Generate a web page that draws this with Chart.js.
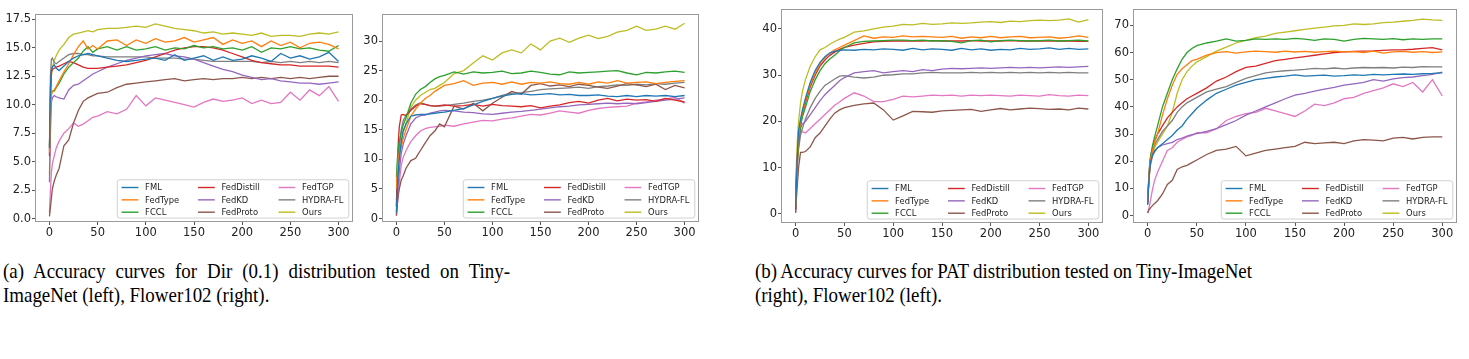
<!DOCTYPE html>
<html><head><meta charset="utf-8">
<script src="https://cdn.jsdelivr.net/npm/chart.js@4.4.1/dist/chart.umd.min.js"></script>
<style>
html,body{margin:0;padding:0;background:#fff;}
body{width:1469px;height:359px;overflow:hidden;position:relative;}
.cv{position:absolute;top:0;}
.cap{position:absolute;font-family:"Liberation Serif","Times New Roman",serif;font-size:21.5px;line-height:24px;color:#000;white-space:nowrap;transform-origin:0 0;transform:scaleX(0.88);display:inline-block;}
</style></head><body>
<canvas id="c1" class="cv"></canvas>
<canvas id="c2" class="cv"></canvas>
<canvas id="c3" class="cv"></canvas>
<canvas id="c4" class="cv"></canvas>
<div class="cap" style="left:3px;top:259px" data-w="507">(a) Accuracy curves for Dir (0.1) distribution tested on Tiny-</div>
<div class="cap" style="left:3px;top:283px">ImageNet (left), Flower102 (right).</div>
<div class="cap" style="left:755px;top:259px" data-w="497">(b) Accuracy curves for PAT distribution tested on Tiny-ImageNet</div>
<div class="cap" style="left:755px;top:283px">(right), Flower102 (left).</div>
<script>
// ---------------- data ----------------
const epochs = [0,1,2,3,5,7,10,15,20,25,30,35,40,45,50,60,70,80,90,100,110,120,130,140,150,160,170,180,190,200,210,220,230,240,250,260,270,280,290,300];
const methods = ["FML","FedType","FCCL","FedDistill","FedKD","FedProto","FedTGP","HYDRA-FL","Ours"];
const xTickValues = [0,50,100,150,200,250,300];
const yTicksDirTiny = [0,2.5,5,7.5,10,12.5,15,17.5];
const yTicksDirFlower = [0,5,10,15,20,25,30];
const yTicksPatFlower = [0,10,20,30,40];
const yTicksPatTiny = [0,10,20,30,40,50,60,70];

// (a) left: Dir(0.1), Tiny-ImageNet
const dirTinyFML = [6.2,11.5,13.0,13.3,13.5,13.2,13.0, 13.4,13.8,14.1,14.3,14.4,14.5,14.4,14.3, 14.1,13.9,13.8,13.9,14.0,14.1,13.9,14.4,13.9,14.1, 14.3,13.9,14.2,13.9,14.0,14.3,14.1,13.8,14.5,14.1, 14.3,14.0,14.2,14.6,13.8];
const dirTinyFedType = [5.8,9.0,10.8,11.2,11.3,11.6,12.1, 12.9,13.6,14.4,15.1,15.6,14.9,15.2,14.9, 15.6,15.7,15.2,15.7,15.4,15.8,15.5,15.6,15.9,15.5, 15.7,15.9,15.3,15.7,15.4,15.6,15.1,15.6,15.2,15.5, 15.0,15.4,15.5,15.3,14.9];
const dirTinyFCCL = [6.4,9.5,11.0,11.2,11.2,11.5,11.9, 12.7,13.3,13.7,14.1,14.7,15.1,14.6,14.9, 15.1,14.8,15.1,14.8,14.9,15.1,14.8,15.0,14.9,15.2, 15.0,15.1,14.9,15.0,14.8,15.1,14.6,15.0,14.9,15.1, 14.9,15.0,14.8,14.7,15.2];
const dirTinyFedDistill = [5.5,10.5,12.8,13.1,13.2,13.3,13.4, 13.6,13.8,13.7,13.5,13.3,13.2,13.2,13.2, 13.3,13.4,13.5,13.7,13.9,14.2,14.5,14.8,15.0,15.1, 15.1,15.0,14.8,14.5,14.2,13.9,13.7,13.6,13.5,13.5, 13.4,13.4,13.4,13.4,13.3];
const dirTinyFedKD = [3.2,7.5,10.2,10.6,10.8,10.7,10.6, 10.5,11.3,11.7,11.8,12.1,12.4,12.7,12.9, 13.3,13.6,13.9,14.1,14.3,14.4,14.5,14.3,14.2,14.0, 13.7,13.4,13.1,12.9,12.6,12.4,12.2,12.3,12.1,12.0, 11.9,11.9,11.8,11.9,12.0];
const dirTinyFedProto = [0.2,1.0,1.8,2.6,3.3,3.8,4.4, 6.4,6.9,8.4,9.5,10.3,10.6,10.8,11.0, 11.1,11.5,11.8,11.9,12.0,12.1,12.2,12.3,12.1,12.2, 12.3,12.2,12.3,12.3,12.4,12.3,12.4,12.3,12.4,12.3, 12.4,12.3,12.4,12.5,12.5];
const dirTinyFedTGP = [0.5,2.5,4.0,4.8,5.5,6.2,6.8, 7.5,7.9,8.4,8.1,8.3,8.6,8.9,9.0, 9.4,9.2,9.6,10.8,9.9,10.6,10.4,10.2,10.0,9.8, 10.2,10.5,10.3,10.4,10.6,10.1,10.4,10.1,10.2,11.1, 10.4,11.3,10.8,11.6,10.3];
const dirTinyHYDRA = [6.0,12.5,14.0,14.1,13.7,13.6,13.8, 14.1,14.4,14.5,14.5,14.4,14.4,14.3,14.3, 14.2,14.2,14.2,14.2,14.2,14.1,14.1,14.1,14.0,14.0, 13.9,13.8,13.8,13.8,13.8,13.8,13.7,13.8,13.7,13.8, 13.7,13.8,13.7,13.8,13.7];
const dirTinyOurs = [3.8,9.0,12.5,13.3,13.9,14.3,14.8, 15.3,15.9,16.2,16.3,16.4,16.5,16.4,16.6, 16.7,16.7,16.8,16.9,16.8,17.1,16.9,16.7,16.6,16.5, 16.3,16.4,16.2,16.3,16.2,16.1,16.3,16.0,16.1,16.1, 16.0,16.2,16.3,16.2,16.4];

// (a) right: Dir(0.1), Flower102
const dirFlowerFML = [1.0,5.0,8.0,10.0,13.0,14.8,16.0, 17.3,17.5,17.6,17.6,17.7,17.8,17.9,18.0, 18.3,18.6,19.2,19.8,20.3,20.7,21.0,21.1,20.9,21.0, 21.1,20.9,21.0,20.8,20.8,20.9,20.7,20.6,20.8,20.6, 20.8,20.7,20.8,20.6,20.8];
const dirFlowerFedType = [5.0,8.0,10.0,11.0,12.0,13.5,15.0, 17.3,18.5,19.5,20.3,20.8,21.5,22.0,22.5, 22.8,23.3,22.5,22.9,23.0,22.7,23.1,22.7,23.0,22.9, 23.1,22.8,22.7,23.0,22.7,23.1,22.9,23.3,22.9,23.0, 23.1,22.8,23.0,23.2,23.3];
const dirFlowerFCCL = [7.0,10.0,12.0,13.0,14.5,15.8,17.0, 19.5,21.0,21.8,22.3,23.0,23.6,24.0,24.2, 24.8,24.4,24.8,24.6,24.7,24.9,24.5,24.6,24.9,24.7, 24.4,24.3,24.8,24.6,24.7,24.8,24.9,25.0,24.6,24.3, 24.7,24.6,24.8,24.9,24.7];
const dirFlowerFedDistill = [2.0,8.0,13.0,15.5,17.5,17.6,17.4, 18.3,19.0,19.4,19.3,19.1,19.0,19.1,19.2, 19.0,19.1,19.3,19.0,19.3,19.1,19.0,18.9,19.1,18.7, 19.0,19.2,19.6,19.8,19.5,20.0,20.3,19.9,20.2,20.0, 20.1,19.8,20.3,20.0,19.7];
const dirFlowerFedKD = [1.0,4.0,6.0,8.0,11.0,12.5,14.0, 16.0,17.0,17.4,17.5,17.8,18.0,18.2,18.3, 18.2,18.0,17.9,17.7,17.6,17.8,18.0,18.1,18.3,18.5, 18.7,18.9,19.0,19.2,19.3,19.4,19.5,19.4,19.5,19.4, 19.6,19.8,20.0,20.2,20.4];
const dirFlowerFedProto = [0.5,2.5,4.0,5.0,6.5,7.2,8.5, 9.8,10.2,11.5,12.8,14.0,14.8,16.0,15.5, 19.0,18.5,19.5,18.2,19.5,20.5,21.5,21.0,22.5,22.8, 22.4,22.6,22.3,22.7,22.5,22.2,22.0,22.4,22.8,22.6, 22.3,22.7,21.8,22.5,22.1];
const dirFlowerFedTGP = [0.5,2.5,4.5,6.0,9.0,10.3,11.5, 13.0,14.0,14.8,15.2,15.4,15.5,15.6,15.8, 15.6,16.0,16.3,16.6,16.5,16.8,17.0,17.3,17.6,17.5, 17.8,18.2,18.0,17.8,18.3,18.6,18.8,18.9,19.0,19.5, 19.7,20.0,20.2,20.5,19.5];
const dirFlowerHYDRA = [2.0,6.0,9.5,12.0,15.0,16.5,17.5, 18.5,19.2,19.6,19.3,19.1,19.0,19.0,19.1, 19.3,19.5,19.8,20.0,20.3,20.8,21.2,21.3,21.5,21.8, 21.9,22.0,22.1,22.2,22.0,22.3,22.4,22.6,22.5,22.7, 22.6,22.8,22.7,22.9,23.0];
const dirFlowerOurs = [3.0,7.0,10.0,11.0,12.5,14.5,16.0, 18.8,20.0,20.8,21.3,21.8,22.0,22.5,23.0, 24.5,25.0,26.3,27.5,26.8,28.0,28.5,28.0,29.5,28.5, 30.0,30.5,29.8,30.5,31.0,30.4,30.8,31.5,31.8,32.5, 31.8,32.0,32.5,32.0,33.0];

// (b) left: PAT, Flower102
const patFlowerFML = [1,8,14,18,20.5,22.5,25, 28.5,31,32.8,34,34.8,35.2,35.3,35.5, 35.4,35.6,35.5,35.7,35.6,35.4,35.8,35.5,35.7,35.6, 35.4,35.8,35.5,35.7,35.4,35.6,35.5,35.8,35.6,35.7, 35.9,35.6,35.8,35.6,35.7];
const patFlowerFedType = [1,7,13,17,20,22,24.5, 28,30.5,32.5,33.8,34.8,35.5,36,36.5, 37.5,38.5,38.0,38.3,38.2,38.5,38.3,38.4,38.3,38.2, 38.4,38.0,38.3,38.1,38.4,38.1,38.3,38.4,38.1,38.2, 38.3,38.0,38.2,38.5,38.2];
const patFlowerFCCL = [2,7,12,15,19,21,23, 26.5,29,31,32.5,33.5,34.3,35.3,36.0, 37.0,37.3,37.4,37.5,37.6,37.6,37.5,37.6,37.4,37.5, 37.3,37.0,37.5,37.6,37.2,37.5,37.6,37.5,37.4,37.5, 37.6,37.4,37.5,37.6,37.4];
const patFlowerFedDistill = [1,8,13,16,19.5,21.5,24, 27.5,30,32,33.3,34.3,35.0,35.6,36.0, 36.5,36.9,37.2,37.3,37.4,37.4,37.4,37.4,37.5,37.4, 37.4,37.4,37.5,37.4,37.4,37.4,37.5,37.4,37.4,37.4, 37.4,37.4,37.4,37.3,37.3];
const patFlowerFedKD = [5,10,13,15,18.5,19.5,20, 21.5,23,24.5,25.8,26.8,27.8,28.8,29.5, 30.5,30.8,31.0,30.5,30.8,31.0,30.8,31.2,31.0,31.3, 31.5,31.4,31.5,31.6,31.5,31.6,31.7,31.6,31.7,31.6, 31.7,31.8,31.7,31.8,31.9];
const patFlowerFedProto = [0.2,4,7,10,13.3,13.3,13.5, 14.5,16.5,17.5,19,20.5,21.8,22.5,23.0, 23.5,23.8,24.0,22.5,20.3,21.2,22.2,22.1,22.0,22.3, 22.4,22.5,22.6,22.2,22.5,22.8,22.5,22.7,22.9,22.8, 22.6,22.7,22.5,22.9,22.7];
const patFlowerFedTGP = [0.5,6,11,15,18.5,17.8,17.5, 18.5,19.5,20.5,21.5,22.5,23.5,24.2,25.0, 26.2,25.5,24.3,24.3,24.8,25.5,25.3,25.5,25.7,25.6, 25.7,25.5,25.7,25.6,25.7,25.6,25.5,25.7,25.6,25.5, 25.8,25.6,25.5,25.7,25.6];
const patFlowerHYDRA = [4,8,11.5,14,17,18.5,20.5, 23,25,26.5,27.8,28.5,29.2,29.8,29.9, 29.6,29.4,29.6,30.0,30.1,30.3,30.3,30.5,30.6,30.5, 30.5,30.5,30.6,30.5,30.6,30.5,30.6,30.5,30.6,30.5, 30.6,30.5,30.6,30.5,30.5];
const patFlowerOurs = [6,12,17,20,24,26.5,29, 32,34,35.5,36,36.7,37.3,37.8,38.2, 39.3,39.6,40.0,40.4,40.6,41.0,40.9,41.2,41.0,41.1, 41.3,41.2,41.3,41.5,41.6,41.4,41.7,41.6,41.8,41.9, 41.8,41.9,42.2,41.5,42.0];

// (b) right: PAT, Tiny-ImageNet
const patTinyFML = [4,12,17,20,22.5,23.8,25, 26.5,28,29.5,31.5,33,35.5,37.5,39.5, 42.5,45,46.5,48,49,50,50.5,51,51.3,51.8, 51.3,51.5,51.7,51.3,51.5,51.8,51.6,52,51.8,52, 52.1,52,52.2,52.3,52.5];
const patTinyFedType = [5,13,18,21,24,27,30, 37,43,48,52,54,55.5,57,57.5, 59,60,60.3,59.8,60.2,60.5,60.3,60.1,60.5,60.2, 60.4,60.1,60.3,60.5,60.2,60.3,60.0,60.5,59.8,60.2, 60.4,60.1,60.3,60.0,60.2];
const patTinyFCCL = [5,13,19,22,26,29,33, 40,45,50,54,57.5,60,61.5,62.5, 63.5,64.2,65,64.2,64.5,65,64.8,65,64.8,65.2, 64.9,64.5,65,64.8,64.2,64.8,65.2,65,64.8,65.1, 64.7,65,64.8,65,65];
const patTinyFedDistill = [5,13,19,22,25,27.5,30, 33,36,38,40,41.5,43,44,45, 47,49.5,51,53,54.5,55,56,57,57.5,58, 58.5,59,59.5,60,60.2,60.4,60.5,60.6,60.8,61, 61,61.2,61.5,61.8,61];
const patTinyFedKD = [5,12,16,19,22,23.5,25, 26,26.5,27,28,28.5,29.3,29.8,30.2, 31,32,33.5,35,37,38.5,40,41.5,43,44.3, 45,45.8,46.5,47.2,48,48.5,49,50,49.5,50.3, 50.8,51,51.5,52,52.8];
const patTinyFedProto = [1,2,2.5,3,3.8,4.5,5.5, 8,11.5,13,17,18,18.5,19.5,20.5, 22.5,24,24.5,25.5,22,23,24,24.5,25,25.5, 27,26.5,26.8,27,26.5,27.5,28,27.8,27.5,28.5, 28.8,28.2,28.8,29,29];
const patTinyFedTGP = [1,2.5,4,6,10,13,16, 20,24,25,27,28,29,29.5,30.5, 30.5,32,35,36.5,37.5,38,39.5,38.5,37.5,36.5, 38.5,41,40.5,41.5,43,43.5,45,46,47,48.5, 47.5,49,45.5,50,44];
const patTinyHYDRA = [4,12,17,21,24,26,28, 31,33,35,38,40,41.5,42.5,43.5, 45.5,46.5,47.5,49,50.5,51.5,52.5,53,53.3,53.5, 53.8,54.2,54,54.3,54,54.3,54.5,54.4,54.5,54.3, 54.6,54.5,54.8,54.7,54.7];
const patTinyOurs = [5,12,17,20,23,25,27, 30,33,38,45,50,53,55,56.5, 58.5,60.5,62,63.5,64.5,65.5,66,67,67.5,68, 68.5,69,69.3,69.8,70,70.5,70.3,70.5,71,71.2, 71.5,71.8,72.3,72,71.8];

// ---------------- styles ----------------
const lineColors = ["#1f77b4","#ff7f0e","#2ca02c","#d62728","#9467bd","#8c564b","#e377c2","#7f7f7f","#bcbd22"];
const TICK_FONT = {family:"'DejaVu Sans', sans-serif", size:11.5};
const LEG_FS = 8.4;
const CANVAS_H = 245, AXIS_W = 35, RIGHT_PAD = 4;

const framePlugin = {
  id:'frame',
  afterDatasetsDraw(chart){
    const a = chart.chartArea, c = chart.ctx;
    c.save(); c.strokeStyle = '#9a9a9a'; c.lineWidth = 1;
    c.strokeRect(Math.round(a.left)+0.5, Math.round(a.top)+0.5, Math.round(a.right-a.left)-1, Math.round(a.bottom-a.top)-1);
    c.restore();
  }
};
const legendPlugin = {
  id:'mplLegend',
  afterDraw(chart){
    const c = chart.ctx, a = chart.chartArea, fs = LEG_FS;
    const ds = chart.data.datasets;
    c.save();
    c.font = fs + "px 'DejaVu Sans', sans-serif";
    const ncol = 3, nrow = 3;
    const bp = 0.4*fs, hl = 2*fs, htp = 0.8*fs, cs = 2*fs + 2;
    const rowStep = 1.47*fs, firstRow = 0.92*fs;
    const colW = [];
    for (let k=0;k<ncol;k++){
      let w = 0;
      for (let r=0;r<nrow;r++){ const d = ds[k*nrow+r]; if (d) w = Math.max(w, c.measureText(d.label).width); }
      colW.push(w);
    }
    const W = 2*bp + ncol*(hl+htp) + colW.reduce((s,v)=>s+v,0) + (ncol-1)*cs + 3;
    const H = 4.55*fs;
    const x0 = a.right - 0.5*fs - W, y0 = a.bottom - 4 - H;
    const rr = 2.5;
    c.beginPath();
    c.moveTo(x0+rr,y0); c.lineTo(x0+W-rr,y0); c.quadraticCurveTo(x0+W,y0,x0+W,y0+rr);
    c.lineTo(x0+W,y0+H-rr); c.quadraticCurveTo(x0+W,y0+H,x0+W-rr,y0+H);
    c.lineTo(x0+rr,y0+H); c.quadraticCurveTo(x0,y0+H,x0,y0+H-rr);
    c.lineTo(x0,y0+rr); c.quadraticCurveTo(x0,y0,x0+rr,y0); c.closePath();
    c.fillStyle = 'rgba(255,255,255,0.8)'; c.fill();
    c.strokeStyle = '#d0d0d0'; c.lineWidth = 1; c.stroke();
    let cx = x0 + bp + 1;
    for (let k=0;k<ncol;k++){
      for (let r=0;r<nrow;r++){
        const d = ds[k*nrow+r]; if (!d) continue;
        const cy = y0 + firstRow + r*rowStep;
        c.strokeStyle = d.borderColor; c.lineWidth = 1.4;
        c.beginPath(); c.moveTo(cx, cy); c.lineTo(cx+hl, cy); c.stroke();
        c.fillStyle = '#222'; c.textBaseline = 'middle'; c.textAlign = 'left';
        c.fillText(d.label, cx+hl+htp, cy+0.5);
      }
      cx += hl + htp + colW[k] + cs;
    }
    c.restore();
  }
};

function makeChart(id, plot, yMin, yMax, yTicks, decimals, series){
  const cv = document.getElementById(id);
  const w = plot.r - plot.l + AXIS_W + RIGHT_PAD;
  cv.width = w; cv.height = CANVAS_H;
  cv.style.left = (plot.l - AXIS_W) + 'px';
  cv.style.width = w + 'px'; cv.style.height = CANVAS_H + 'px';
  return new Chart(cv, {
    type:'line',
    data:{ datasets: methods.map((m,i)=>({
      label:m,
      data: epochs.map((e,j)=>({x:e, y:series[i][j]})),
      borderColor: lineColors[i], backgroundColor: lineColors[i],
      borderWidth:1.3, pointRadius:0, tension:0, fill:false
    }))},
    options:{
      responsive:false, maintainAspectRatio:false, animation:false, events:[],
      devicePixelRatio:1,
      layout:{padding:{top:plot.t, right:RIGHT_PAD, left:0, bottom:0}},
      plugins:{legend:{display:false}, tooltip:{enabled:false}, title:{display:false}},
      scales:{
        x:{type:'linear', min:-15, max:315,
          afterBuildTicks: s => { s.ticks = xTickValues.map(v=>({value:v})); },
          afterFit: s => { s.height = CANVAS_H - plot.b; },
          grid:{display:true, drawOnChartArea:false, drawTicks:true, tickLength:3, color:'#555', lineWidth:1},
          border:{display:false},
          ticks:{font:TICK_FONT, color:'#222', padding:1, maxRotation:0, autoSkip:false, callback:v=>String(v)}
        },
        y:{type:'linear', min:yMin, max:yMax,
          afterBuildTicks: s => { s.ticks = yTicks.map(v=>({value:v})); },
          afterFit: s => { s.width = AXIS_W; },
          grid:{display:true, drawOnChartArea:false, drawTicks:true, tickLength:3, color:'#555', lineWidth:1},
          border:{display:false},
          ticks:{font:TICK_FONT, color:'#222', padding:1, autoSkip:false, callback:v=>Number(v).toFixed(decimals)}
        }
      }
    },
    plugins:[framePlugin, legendPlugin]
  });
}

makeChart('c1', {l:35,t:14,r:353,b:222}, -0.3, 17.97, yTicksDirTiny, 1,
  [dirTinyFML,dirTinyFedType,dirTinyFCCL,dirTinyFedDistill,dirTinyFedKD,dirTinyFedProto,dirTinyFedTGP,dirTinyHYDRA,dirTinyOurs]);
makeChart('c2', {l:382,t:14,r:699,b:222}, -0.58, 34.57, yTicksDirFlower, 0,
  [dirFlowerFML,dirFlowerFedType,dirFlowerFCCL,dirFlowerFedDistill,dirFlowerFedKD,dirFlowerFedProto,dirFlowerFedTGP,dirFlowerHYDRA,dirFlowerOurs]);
makeChart('c3', {l:781,t:9,r:1103,b:223}, -1.95, 44.32, yTicksPatFlower, 0,
  [patFlowerFML,patFlowerFedType,patFlowerFCCL,patFlowerFedDistill,patFlowerFedKD,patFlowerFedProto,patFlowerFedTGP,patFlowerHYDRA,patFlowerOurs]);
makeChart('c4', {l:1133,t:9,r:1457,b:223}, -2.68, 76.0, yTicksPatTiny, 0,
  [patTinyFML,patTinyFedType,patTinyFCCL,patTinyFedDistill,patTinyFedKD,patTinyFedProto,patTinyFedTGP,patTinyHYDRA,patTinyOurs]);

// justify caption first lines
document.querySelectorAll('.cap[data-w]').forEach(el=>{
  const target = (+el.dataset.w) / 0.88;
  const nat = el.getBoundingClientRect().width / 0.88;
  const gaps = (el.textContent.match(/ /g)||[]).length;
  if (gaps) el.style.wordSpacing = ((target - nat)/gaps) + 'px';
});
</script>
</body></html>
